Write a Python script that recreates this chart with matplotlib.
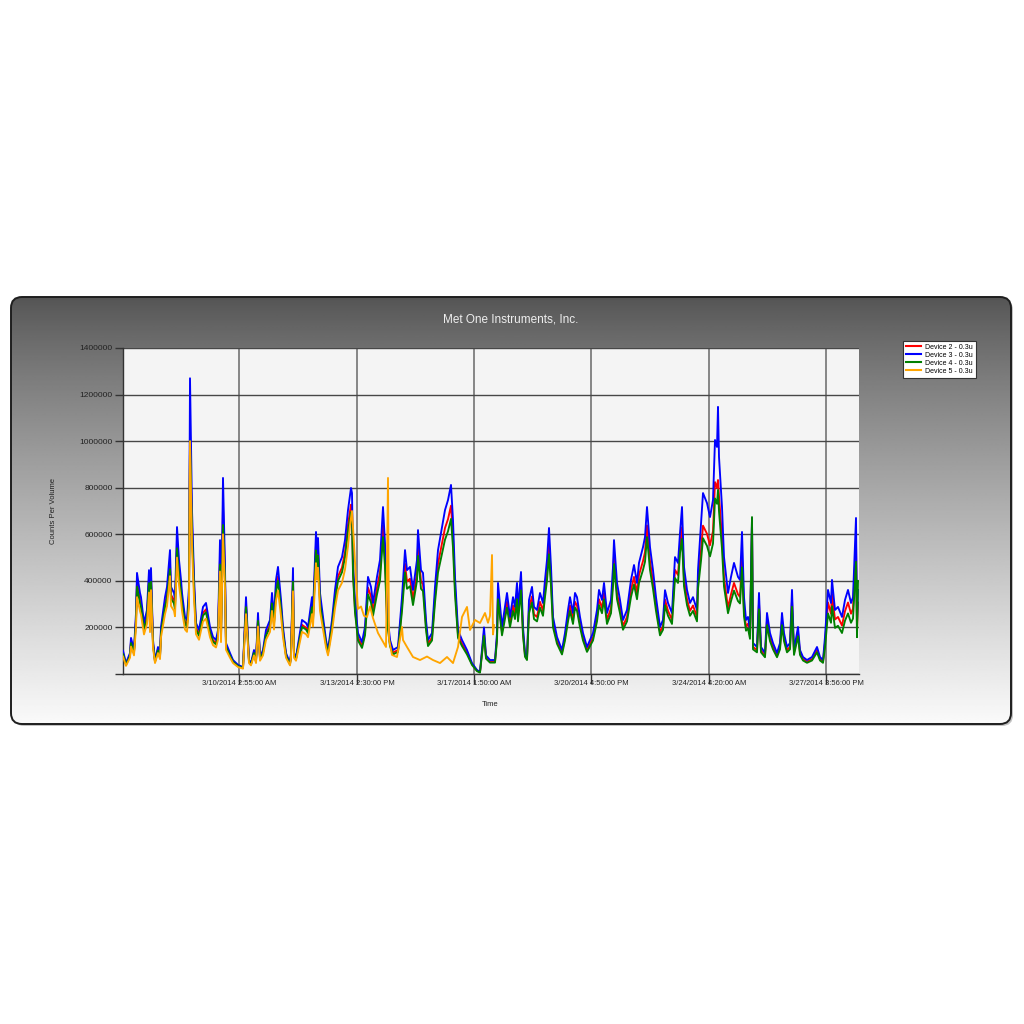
import matplotlib
matplotlib.use("Agg")
import matplotlib.pyplot as plt
import numpy as np
from matplotlib.patches import FancyBboxPatch
from matplotlib.ticker import FuncFormatter

plt.rcParams["font.family"] = ["Liberation Sans", "DejaVu Sans"]

TITLE = "Met One Instruments, Inc."
SERIES = ["Device 2 - 0.3u", "Device 3 - 0.3u", "Device 4 - 0.3u", "Device 5 - 0.3u"]
COLORS = ["#ff0000", "#0000ff", "#008000", "#ffa500"]
X_LABEL = "Time"
Y_LABEL = "Counts Per Volume"
Y_TICKS = [0, 200000, 400000, 600000, 800000, 1000000, 1200000, 1400000]
TICK_LABELS = ["3/10/2014 2:55:00 AM", "3/13/2014 2:30:00 PM", "3/17/2014 1:50:00 AM",
               "3/20/2014 4:50:00 PM", "3/24/2014 4:20:00 AM", "3/27/2014 3:56:00 PM"]
TICK_SAMPLES = [116, 234, 351, 468, 586, 703]   # record index of each labelled time
N_SAMPLES = 736
UNIT = 1000                                     # values below are in thousands

# record index shared by devices 2, 3 and 4
SAMPLE = [0, 3, 7, 8, 11, 13, 14, 17, 18, 21, 24, 26, 27, 28, 30, 32,
          35, 37, 38, 42, 44, 47, 48, 51, 52, 54, 56, 58, 59, 62, 64, 66,
          67, 69, 71, 73, 76, 80, 83, 87, 90, 93, 95, 97, 98, 100, 102, 103,
          107, 110, 115, 120, 123, 126, 128, 131, 133, 135, 137, 140, 143, 147, 149, 151,
          153, 155, 158, 160, 163, 167, 168, 170, 171, 173, 179, 183, 185, 189, 190, 193,
          194, 195, 197, 200, 203, 205, 209, 212, 215, 219, 222, 225, 228, 229, 230, 232,
          235, 239, 242, 245, 248, 250, 254, 257, 260, 262, 264, 267, 270, 275, 279, 282,
          284, 287, 290, 294, 295, 298, 300, 303, 305, 309, 312, 315, 319, 322, 325, 328,
          330, 332, 335, 339, 344, 349, 354, 357, 361, 363, 367, 372, 374, 375, 379, 382,
          384, 387, 390, 392, 394, 395, 398, 400, 402, 404, 406, 409, 411, 414, 417, 420,
          422, 424, 426, 428, 430, 434, 439, 442, 445, 447, 450, 452, 454, 457, 460, 464,
          467, 470, 474, 476, 479, 481, 484, 488, 490, 491, 494, 497, 500, 504, 508, 511,
          514, 516, 520, 522, 524, 527, 530, 533, 537, 540, 542, 545, 549, 552, 555, 557,
          559, 561, 564, 567, 570, 574, 575, 578, 580, 584, 587, 590, 592, 594, 595, 596,
          599, 601, 605, 608, 611, 615, 617, 619, 621, 623, 625, 627, 629, 630, 634, 636,
          638, 642, 644, 647, 650, 654, 657, 659, 661, 664, 667, 669, 671, 675, 677, 680,
          684, 689, 694, 697, 700, 702, 705, 708, 709, 712, 715, 719, 722, 725, 728, 730,
          733, 734, 735]

DEV3 = [100, 47, 90, 155, 103, 262, 434, 348, 330, 219, 275, 446, 232, 455, 146, 60,
        116, 82, 202, 330, 374, 532, 374, 348, 318, 631, 490, 404, 348, 245, 232, 374,
        1270, 704, 417, 219, 189, 288, 305, 202, 159, 146, 189, 575, 176, 842, 460, 133,
        90, 60, 39, 30, 330, 60, 47, 103, 60, 262, 73, 103, 189, 232, 348, 245,
        404, 460, 318, 202, 90, 47, 90, 455, 90, 73, 232, 219, 202, 330, 262, 610,
        520, 584, 348, 245, 146, 103, 232, 361, 460, 502, 575, 704, 799, 777, 490, 305,
        176, 137, 202, 417, 374, 305, 417, 490, 717, 562, 275, 146, 103, 116, 330, 532,
        446, 460, 361, 490, 618, 446, 434, 232, 146, 176, 374, 532, 631, 704, 747, 812,
        661, 417, 189, 146, 103, 47, 17, 9, 200, 80, 60, 60, 176, 391, 202, 288,
        348, 245, 330, 288, 391, 275, 438, 202, 90, 73, 318, 374, 288, 275, 348, 305,
        404, 490, 627, 460, 245, 159, 103, 176, 275, 330, 262, 348, 330, 245, 176, 116,
        146, 176, 275, 361, 318, 391, 262, 318, 460, 575, 391, 318, 232, 275, 404, 468,
        391, 477, 545, 588, 717, 545, 446, 330, 202, 232, 360, 305, 262, 502, 477, 605,
        717, 460, 361, 305, 330, 275, 446, 648, 777, 734, 674, 747, 1005, 975, 1147, 932,
        717, 502, 348, 417, 477, 417, 404, 610, 330, 232, 245, 189, 670, 133, 116, 348,
        116, 90, 262, 176, 133, 90, 133, 262, 176, 116, 133, 361, 103, 202, 103, 73,
        60, 73, 116, 73, 60, 159, 361, 305, 404, 275, 288, 245, 318, 361, 305, 330,
        670, 219, 361]

DEV2 = [90, 43, 82, 140, 94, 238, 395, 317, 300, 200, 250, 405, 211, 414, 133, 55,
        106, 75, 184, 300, 340, 470, 340, 317, 289, 560, 446, 368, 317, 223, 211, 340,
        1000, 640, 379, 199, 172, 262, 278, 184, 145, 133, 172, 500, 160, 720, 419, 121,
        82, 55, 35, 27, 300, 55, 43, 94, 55, 238, 66, 94, 172, 211, 317, 223,
        368, 419, 289, 184, 82, 43, 82, 414, 82, 66, 211, 199, 184, 300, 238, 555,
        473, 531, 317, 223, 133, 94, 211, 329, 419, 457, 523, 641, 727, 707, 446, 278,
        157, 122, 180, 371, 333, 271, 371, 436, 638, 500, 245, 130, 92, 103, 294, 473,
        397, 409, 321, 436, 550, 397, 386, 206, 130, 157, 333, 473, 562, 627, 665, 723,
        588, 371, 168, 130, 92, 42, 15, 8, 178, 71, 53, 53, 157, 348, 180, 256,
        310, 218, 294, 256, 348, 245, 390, 180, 80, 65, 283, 333, 256, 245, 310, 271,
        360, 436, 558, 409, 218, 142, 92, 157, 245, 294, 233, 310, 294, 218, 157, 103,
        130, 157, 245, 321, 283, 348, 233, 283, 409, 512, 348, 283, 206, 245, 360, 417,
        348, 425, 485, 523, 638, 485, 397, 294, 180, 206, 320, 271, 233, 447, 425, 548,
        630, 409, 321, 271, 294, 245, 397, 531, 637, 602, 553, 613, 824, 800, 833, 764,
        588, 412, 285, 342, 391, 342, 331, 500, 271, 204, 216, 166, 650, 117, 102, 306,
        102, 79, 231, 155, 117, 79, 117, 231, 155, 102, 117, 318, 91, 178, 91, 64,
        53, 64, 102, 64, 53, 135, 307, 259, 343, 234, 245, 208, 270, 307, 259, 281,
        570, 186, 307]

DEV4 = [85, 40, 78, 133, 90, 228, 375, 303, 287, 190, 240, 390, 202, 396, 127, 52,
        101, 71, 176, 287, 325, 450, 325, 303, 277, 540, 426, 351, 303, 213, 202, 325,
        1000, 612, 363, 191, 164, 251, 265, 176, 138, 127, 164, 470, 153, 640, 400, 116,
        78, 52, 34, 26, 287, 52, 41, 90, 52, 228, 64, 90, 164, 202, 303, 213,
        351, 400, 277, 176, 78, 41, 78, 396, 78, 64, 202, 191, 176, 287, 228, 531,
        452, 508, 303, 213, 127, 90, 202, 314, 400, 437, 500, 612, 695, 676, 426, 265,
        144, 112, 166, 342, 307, 250, 342, 402, 588, 461, 226, 120, 84, 95, 271, 436,
        366, 377, 296, 402, 507, 366, 356, 190, 120, 144, 307, 436, 517, 577, 613, 666,
        542, 342, 155, 120, 84, 39, 12, 6, 164, 66, 49, 49, 144, 321, 166, 236,
        285, 201, 271, 236, 321, 226, 359, 166, 74, 60, 261, 307, 236, 226, 285, 250,
        331, 402, 514, 377, 201, 130, 84, 144, 226, 271, 215, 285, 271, 201, 144, 95,
        120, 144, 226, 296, 261, 321, 215, 261, 377, 472, 321, 261, 190, 226, 331, 384,
        321, 391, 447, 482, 588, 447, 366, 271, 166, 190, 295, 250, 215, 412, 391, 519,
        580, 377, 296, 250, 271, 226, 366, 486, 583, 550, 505, 560, 754, 731, 790, 699,
        538, 376, 261, 313, 358, 313, 303, 458, 248, 186, 196, 151, 674, 106, 93, 278,
        93, 72, 210, 141, 106, 72, 106, 210, 141, 93, 106, 289, 82, 162, 82, 58,
        48, 58, 93, 58, 48, 114, 260, 220, 291, 198, 207, 176, 229, 260, 220, 238,
        482, 158, 400]

# device 5 stops reporting part way through the run
DEV5_SAMPLE = [0, 3, 7, 8, 11, 13, 14, 17, 18, 21, 24, 26, 27, 28, 30, 32,
               35, 37, 38, 42, 44, 47, 48, 51, 52, 54, 56, 58, 59, 62, 64, 66,
               67, 69, 71, 73, 76, 80, 83, 87, 90, 93, 95, 97, 98, 100, 102, 103,
               107, 110, 115, 120, 123, 126, 128, 131, 133, 135, 137, 140, 143, 147, 149, 151,
               153, 155, 158, 160, 163, 167, 168, 170, 171, 173, 179, 183, 185, 189, 190, 193,
               194, 195, 197, 200, 203, 205, 209, 212, 215, 219, 222, 225,
               227, 229, 231, 233, 235, 238, 241, 244, 247, 250, 255, 259, 263, 265, 266, 269,
               274, 279, 280, 284, 290, 297, 304, 310, 317, 324, 330, 335, 339, 344, 347, 352,
               357, 362, 365, 367, 369, 370, 371]
DEV5 = [75, 35, 70, 118, 80, 200, 330, 270, 255, 170, 215, 350, 180, 360, 113, 47,
        90, 64, 158, 257, 292, 420, 292, 271, 248, 500, 382, 315, 271, 191, 181, 292,
        1000, 549, 325, 171, 147, 225, 238, 158, 124, 114, 147, 440, 137, 600, 359, 104,
        70, 47, 30, 23, 257, 47, 37, 80, 47, 204, 57, 80, 147, 181, 271, 191,
        315, 359, 248, 158, 70, 37, 70, 355, 70, 57, 181, 171, 158, 257, 204, 476,
        406, 456, 271, 191, 114, 80, 181, 282, 359, 392, 449, 549,
        640, 700, 560, 400, 280, 290, 250, 245, 290, 240, 176, 146, 116, 842, 150, 82,
        73, 202, 146, 116, 73, 60, 75, 60, 47, 73, 47, 116, 245, 288, 189, 232,
        219, 262, 220, 250, 511, 170, 210]

assert len(SAMPLE) == len(DEV2) == len(DEV3) == len(DEV4)
assert len(DEV5_SAMPLE) == len(DEV5)

W = H = 1024
fig = plt.figure(figsize=(10.24, 10.24), dpi=100)
fig.patch.set_facecolor("white")

# ---- rounded gradient panel behind the chart -------------------------------
bg = fig.add_axes([0, 0, 1, 1], zorder=0)
bg.set_xlim(0, W); bg.set_ylim(H, 0); bg.axis("off")
px0, py0, pw, ph = 11, 297, 1000, 427
shadow = FancyBboxPatch((px0 + 2, py0 + 2), pw, ph, boxstyle="round,pad=0,rounding_size=11",
                        facecolor="#9a9a9a", edgecolor="none", alpha=0.6)
bg.add_patch(shadow)
panel = FancyBboxPatch((px0, py0), pw, ph, boxstyle="round,pad=0,rounding_size=11",
                       facecolor="none", edgecolor="#1e1e1e", linewidth=1.4, zorder=3)
bg.add_patch(panel)
grad = np.linspace(0, 1, 256)[:, None]
grad = 0.33 + 0.65 * grad ** 0.85
img = bg.imshow(np.repeat(grad, 2, axis=1), cmap="gray", vmin=0, vmax=1, aspect="auto",
                extent=[px0, px0 + pw, py0 + ph, py0], zorder=1, interpolation="bilinear")
img.set_clip_path(panel)

fig.text(511 / W, 1 - 320 / H, TITLE, color="#eeeeee", fontsize=8.5, ha="center", va="center")

# ---- the chart -------------------------------------------------------------
left, right, top, bottom = 123, 859, 348, 674
ax = fig.add_axes([left / W, 1 - bottom / H, (right - left) / W, (bottom - top) / H], zorder=2)
ax.set_facecolor("#f4f4f4")

for xs, ys, name, col in [(SAMPLE, DEV2, SERIES[0], COLORS[0]),
                          (SAMPLE, DEV3, SERIES[1], COLORS[1]),
                          (SAMPLE, DEV4, SERIES[2], COLORS[2]),
                          (DEV5_SAMPLE, DEV5, SERIES[3], COLORS[3])]:
    ax.plot(xs, np.asarray(ys) * UNIT, color=col, lw=1.35, label=name, zorder=3)

ax.set_xlim(0, N_SAMPLES)
ax.set_ylim(0, 1400000)
ax.set_yticks(Y_TICKS)
ax.yaxis.set_major_formatter(FuncFormatter(lambda v, p: "" if v == 0 else f"{int(v)}"))
ax.set_xticks(TICK_SAMPLES)
ax.set_xticklabels(TICK_LABELS)

ax.grid(axis="y", color="#474747", lw=1.0, zorder=1)
ax.grid(axis="x", color="#7d7d7d", lw=1.3, zorder=1)
ax.set_axisbelow(True)
for s in ("top", "right"):
    ax.spines[s].set_visible(False)
for s in ("left", "bottom"):
    ax.spines[s].set_color("#333333")
    ax.spines[s].set_linewidth(1.0)

ax.tick_params(axis="y", direction="out", length=6, width=1, color="#333333",
               labelsize=6, labelcolor="#222222", pad=1.5)
ax.tick_params(axis="x", direction="out", length=7.5, width=1, color="#333333",
               labelsize=5.5, labelcolor="#222222", pad=-3)

ax.set_xlabel(X_LABEL, fontsize=5.5, color="#222222")
ax.xaxis.set_label_coords((490 - left) / (right - left), -(701 - bottom) / (bottom - top))
ax.set_ylabel(Y_LABEL, fontsize=5.5, color="#222222")
ax.yaxis.set_label_coords(-(left - 57) / (right - left), 0.5)

leg = fig.legend(loc="upper left", bbox_to_anchor=(903 / W, 1 - 341 / H), fontsize=5,
                 frameon=True, fancybox=False, handlelength=2.2, handletextpad=0.6,
                 borderpad=0.4, labelspacing=0.15, borderaxespad=0)
leg.get_frame().set_edgecolor("#333333")
leg.get_frame().set_linewidth(0.8)
leg.get_frame().set_facecolor("white")
leg.get_frame().set_alpha(1)
for line in leg.get_lines():
    line.set_linewidth(1.5)

fig.savefig("out.png", dpi=100)
